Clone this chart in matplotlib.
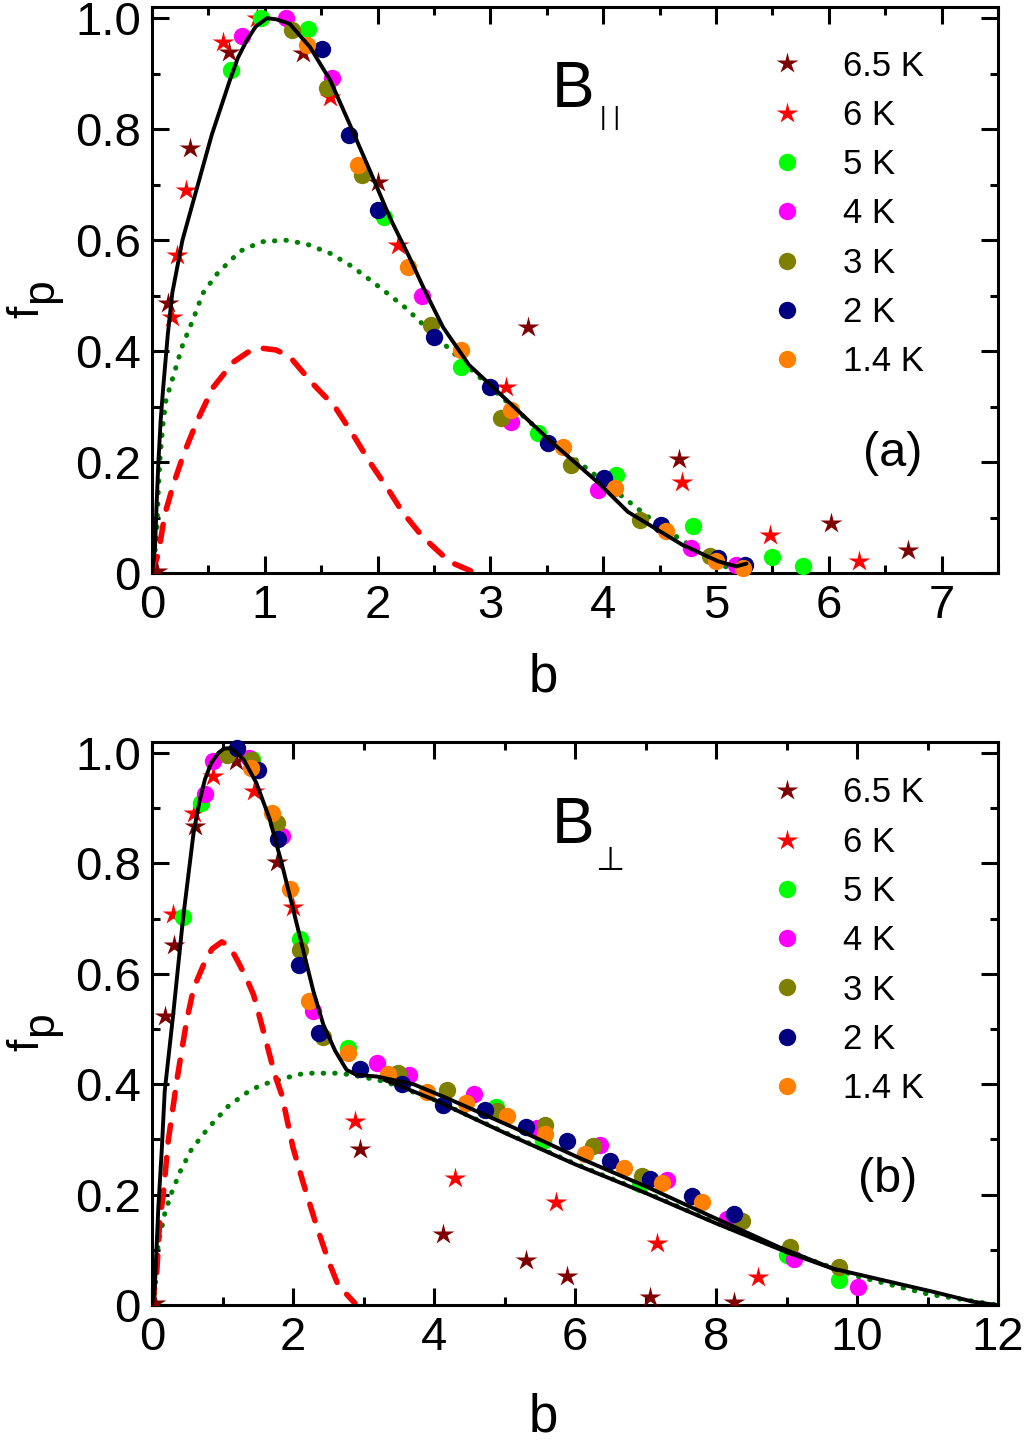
import numpy as np
import matplotlib.pyplot as plt
from matplotlib.ticker import MultipleLocator, FuncFormatter

plt.rcParams['font.family'] = ['Liberation Sans', 'DejaVu Sans']

# ---------------- panel (a): B parallel ----------------
labels = ['6.5 K', '6 K', '5 K', '4 K', '3 K', '2 K', '1.4 K']
colors = ['#800000', '#ff0000', '#00ff00', '#ff00ff', '#808000', '#000080', '#ff8000']
markers = ['*', '*', 'o', 'o', 'o', 'o', 'o']

b_par_65 = [0.04, 0.145, 0.34, 0.68, 1.34, 2.0, 3.33, 4.67, 6.02, 6.70]
f_par_65 = [0.003, 0.486, 0.766, 0.939, 0.937, 0.705, 0.444, 0.205, 0.090, 0.042]
b_par_6 = [0.174, 0.22, 0.30, 0.626, 0.93, 1.58, 2.18, 3.14, 4.70, 5.48, 6.27]
f_par_6 = [0.462, 0.573, 0.69, 0.957, 1.0, 0.858, 0.591, 0.336, 0.164, 0.069, 0.021]
b_par_5 = [0.70, 0.965, 1.38, 2.06, 2.74, 3.42, 4.11, 4.80, 5.50, 5.77]
f_par_5 = [0.907, 1.0, 0.98, 0.642, 0.372, 0.252, 0.177, 0.085, 0.028, 0.012]
b_par_4 = [0.80, 1.19, 1.60, 2.39, 3.18, 3.95, 4.78, 5.18]
f_par_4 = [0.968, 1.0, 0.892, 0.50, 0.273, 0.15, 0.045, 0.015]
b_par_3 = [1.24, 1.55, 1.86, 2.47, 3.09, 3.71, 4.33, 4.95]
f_par_3 = [0.978, 0.875, 0.717, 0.447, 0.279, 0.195, 0.096, 0.030]
b_par_2 = [1.51, 1.75, 2.0, 2.50, 3.0, 3.51, 4.01, 4.51, 5.02, 5.26]
f_par_2 = [0.945, 0.79, 0.654, 0.426, 0.336, 0.235, 0.171, 0.087, 0.027, 0.014]
b_par_14 = [1.37, 1.83, 2.27, 2.74, 3.18, 3.64, 4.10, 4.56, 5.0, 5.24]
f_par_14 = [0.951, 0.735, 0.552, 0.402, 0.294, 0.228, 0.153, 0.076, 0.021, 0.009]

# fit curves
b_par_fit = [0, 0.027, 0.04, 0.056, 0.077, 0.10, 0.14, 0.18, 0.27, 0.40, 0.53, 0.69, 0.76, 0.84,
             0.92, 1.02, 1.10, 1.22, 1.40, 1.58, 1.75, 1.93, 2.11, 2.28, 2.43, 2.58, 2.81, 3.08,
             3.52, 3.96, 4.22, 4.70, 5.02, 5.18, 5.27]
f_par_fit = [0, 0.047, 0.12, 0.198, 0.276, 0.336, 0.43, 0.505, 0.60, 0.695, 0.79, 0.888, 0.928,
             0.96, 0.985, 1.0, 0.998, 0.99, 0.948, 0.888, 0.81, 0.726, 0.64, 0.57, 0.504, 0.443,
             0.375, 0.324, 0.24, 0.162, 0.11, 0.051, 0.021, 0.012, 0.017]
b_par_green = [0, 0.04, 0.056, 0.07, 0.095, 0.124, 0.174, 0.27, 0.37, 0.45, 0.58, 0.78, 0.97,
               1.18, 1.37, 1.58, 1.77, 1.96, 2.05, 2.26, 2.35, 2.55, 2.74, 3.0, 3.5, 4.0, 4.5,
               5.0, 5.2]
f_par_green = [0, 0.06, 0.15, 0.204, 0.264, 0.312, 0.345, 0.41, 0.46, 0.504, 0.54, 0.58, 0.597,
               0.60, 0.593, 0.576, 0.553, 0.524, 0.51, 0.476, 0.458, 0.42, 0.384, 0.335, 0.245,
               0.165, 0.085, 0.02, 0.0]
b_par_red = [0, 0.056, 0.115, 0.19, 0.28, 0.40, 0.54, 0.72, 0.85, 0.98, 1.10, 1.22, 1.43, 1.62,
             1.78, 1.93, 2.08, 2.22, 2.40, 2.64, 2.87]
f_par_red = [0, 0.035, 0.107, 0.16, 0.214, 0.274, 0.334, 0.38, 0.398, 0.405, 0.402, 0.39, 0.34,
             0.30, 0.25, 0.20, 0.155, 0.11, 0.065, 0.02, 0.0]

# ---------------- panel (b): B perpendicular ----------------
b_perp_65 = [0.04, 0.18, 0.31, 0.61, 1.19, 1.77, 2.95, 4.13, 5.30, 5.89, 7.07, 8.25]
f_perp_65 = [0.003, 0.523, 0.652, 0.868, 0.985, 0.802, 0.282, 0.129, 0.081, 0.052, 0.015, 0.006]
b_perp_6 = [0.30, 0.59, 0.87, 1.45, 2.0, 2.88, 4.30, 5.73, 7.16, 8.59]
f_perp_6 = [0.709, 0.892, 0.958, 0.931, 0.721, 0.333, 0.231, 0.186, 0.112, 0.051]
b_perp_5 = [0.44, 0.70, 1.42, 2.10, 2.78, 4.88, 5.55, 6.92, 9.0, 9.74]
f_perp_5 = [0.703, 0.91, 0.99, 0.664, 0.466, 0.359, 0.297, 0.219, 0.09, 0.045]
b_perp_4 = [0.75, 0.86, 1.37, 1.84, 2.29, 3.19, 3.64, 4.56, 5.46, 6.35, 7.30, 8.15, 9.10, 10.02]
f_perp_4 = [0.925, 0.985, 0.991, 0.85, 0.532, 0.438, 0.416, 0.382, 0.321, 0.29, 0.226, 0.155,
            0.084, 0.033]
b_perp_3 = [1.06, 1.41, 1.77, 2.10, 2.43, 3.49, 4.18, 4.89, 5.57, 6.26, 6.95, 8.37, 9.05, 9.75]
f_perp_3 = [0.997, 0.988, 0.874, 0.643, 0.486, 0.42, 0.39, 0.351, 0.327, 0.288, 0.233, 0.152,
            0.106, 0.069]
b_perp_2 = [1.20, 1.51, 1.79, 2.08, 2.37, 2.95, 3.54, 4.13, 4.72, 5.31, 5.89, 6.49, 7.06, 7.66,
            8.25]
f_perp_2 = [1.009, 0.97, 0.845, 0.616, 0.492, 0.428, 0.401, 0.363, 0.353, 0.323, 0.297, 0.261,
            0.228, 0.197, 0.165]
b_perp_14 = [1.41, 1.70, 1.96, 2.23, 2.78, 3.35, 3.90, 4.46, 5.03, 5.57, 6.14, 6.69, 7.23, 7.80]
f_perp_14 = [0.973, 0.892, 0.754, 0.55, 0.456, 0.418, 0.386, 0.366, 0.342, 0.31, 0.273, 0.249,
             0.221, 0.186]

b_perp_fit = [0, 0.04, 0.09, 0.14, 0.18, 0.30, 0.44, 0.59, 0.67, 0.75, 0.84, 0.94, 1.02, 1.11,
              1.20, 1.30, 1.48, 1.67, 1.84, 2.0, 2.15, 2.29, 2.43, 2.60, 2.76, 2.90, 3.19, 3.71,
              4.18, 5.12, 6.07, 7.02, 7.96, 8.91, 9.66, 10.37, 11.08, 11.65, 11.98]
f_perp_fit = [0, 0.033, 0.177, 0.285, 0.387, 0.526, 0.70, 0.856, 0.91, 0.952, 0.982, 1.0, 1.008,
              1.009, 1.0, 0.988, 0.946, 0.88, 0.80, 0.718, 0.64, 0.568, 0.508, 0.46, 0.426,
              0.417, 0.414, 0.40, 0.375, 0.322, 0.266, 0.214, 0.159, 0.104, 0.066, 0.045, 0.024,
              0.006, 0.0]
b_perp_fit2 = [3.3, 4.0, 5.0, 6.0, 7.0, 8.0, 9.0, 9.7]
f_perp_fit2 = [0.408, 0.372, 0.312, 0.255, 0.203, 0.148, 0.096, 0.064]
b_perp_green = [0, 0.04, 0.09, 0.14, 0.18, 0.27, 0.40, 0.56, 0.80, 1.08, 1.39, 1.58, 1.73, 1.89,
                2.05, 2.19, 2.36, 2.52, 2.67, 2.95, 3.3, 4.0, 5.0, 6.0, 7.0, 8.0, 9.0, 10.0,
                11.0, 12.0]
f_perp_green = [0, 0.02, 0.117, 0.141, 0.165, 0.201, 0.242, 0.282, 0.321, 0.36, 0.389, 0.40,
                0.405, 0.411, 0.417, 0.42, 0.42, 0.42, 0.42, 0.414, 0.405, 0.372, 0.313, 0.256,
                0.204, 0.149, 0.097, 0.052, 0.02, 0.0]
b_perp_red = [0, 0.066, 0.11, 0.16, 0.23, 0.30, 0.35, 0.42, 0.49, 0.59, 0.73, 0.85, 0.99, 1.10,
              1.22, 1.34, 1.44, 1.53, 1.63, 1.74, 1.84, 2.0, 2.15, 2.34, 2.50, 2.64, 2.88]
f_perp_red = [0, 0.057, 0.153, 0.201, 0.297, 0.36, 0.405, 0.46, 0.514, 0.574, 0.616, 0.645,
              0.658, 0.65, 0.622, 0.592, 0.562, 0.52, 0.472, 0.418, 0.381, 0.285, 0.219, 0.141,
              0.081, 0.036, 0.003]

par_data = [(b_par_65, f_par_65), (b_par_6, f_par_6), (b_par_5, f_par_5), (b_par_4, f_par_4),
            (b_par_3, f_par_3), (b_par_2, f_par_2), (b_par_14, f_par_14)]
perp_data = [(b_perp_65, f_perp_65), (b_perp_6, f_perp_6), (b_perp_5, f_perp_5),
             (b_perp_4, f_perp_4), (b_perp_3, f_perp_3), (b_perp_2, f_perp_2),
             (b_perp_14, f_perp_14)]


def style_axes(ax, xmax, xmajor, xminor):
    ax.set_xlim(0, xmax)
    ax.set_ylim(0, 1.02)
    ax.xaxis.set_major_locator(MultipleLocator(xmajor))
    ax.xaxis.set_minor_locator(MultipleLocator(xminor))
    ax.yaxis.set_major_locator(MultipleLocator(0.2))
    ax.yaxis.set_minor_locator(MultipleLocator(0.1))
    ax.yaxis.set_major_formatter(FuncFormatter(lambda v, p: '0' if abs(v) < 1e-9 else f'{v:.1f}'))
    ax.tick_params(which='both', direction='in', top=True, right=True, width=2.2,
                   labelsize=34, pad=8)
    ax.tick_params(which='major', length=12)
    ax.tick_params(which='minor', length=6)
    for s in ax.spines.values():
        s.set_linewidth(2.2)


def draw_panel(ax, data, fit, fit_extra, green, red, leg_y):
    ax.plot(*green, color='#008000', lw=3.6, ls=(0, (0.1, 2.2)), dash_capstyle='round', zorder=2)
    ax.plot(*red, color='#ff0000', lw=4, ls=(0, (3.1, 2.8)), dash_capstyle='round', zorder=2)
    handles = []
    for i, ((bx, fy), c, m) in enumerate(zip(data, colors, markers)):
        ms = 16 if m == '*' else 12.5
        h, = ax.plot(bx, fy, ls='none', marker=m, ms=ms, color=c, mec='none',
                     zorder=3 + i * 0.1, clip_on=False if m == 'o' else True)
        handles.append(h)
    ax.plot(*fit, color='black', lw=2.8, zorder=5, solid_capstyle='round')
    if fit_extra is not None:
        ax.plot(*fit_extra, color='black', lw=2.8, zorder=5)
    ax.legend(handles, labels, loc='upper left', bbox_to_anchor=(0.73, leg_y), frameon=False,
              fontsize=25, handlelength=1.0, handletextpad=1.1, labelspacing=0.47,
              borderpad=0, borderaxespad=0, numpoints=1)


fig = plt.figure(figsize=(10.25, 14.43), dpi=100)
ax1 = fig.add_axes([0.1483, 0.6029, 0.8254, 0.3922])
ax2 = fig.add_axes([0.1483, 0.0956, 0.8254, 0.3902])

draw_panel(ax1, par_data, (b_par_fit, f_par_fit), None, (b_par_green, f_par_green),
           (b_par_red, f_par_red), 0.925)
style_axes(ax1, 7.5, 1, 0.5)
draw_panel(ax2, perp_data, (b_perp_fit, f_perp_fit), (b_perp_fit2, f_perp_fit2),
           (b_perp_green, f_perp_green), (b_perp_red, f_perp_red), 0.939)
style_axes(ax2, 12, 2, 1)

for ax, ylab in [(ax1, -0.14), (ax2, -0.156)]:
    ax.set_xlabel('b', fontsize=38)
    ax.xaxis.set_label_coords(0.462, ylab)
    # f_p label built from two rotated glyphs
    ax.text(-0.1344, 0.4505, 'f', transform=ax.transAxes, rotation=90, rotation_mode='anchor',
            ha='left', va='baseline', fontsize=32)
    ax.text(-0.118, 0.477, 'p', transform=ax.transAxes, rotation=90, rotation_mode='anchor',
            ha='left', va='baseline', fontsize=32)

ax1.text(0.472, 0.823, 'B', transform=ax1.transAxes, fontsize=46, ha='left', va='baseline')
ax1.text(0.530, 0.791, '| |', transform=ax1.transAxes, fontsize=18, ha='left', va='baseline')
ax2.text(0.472, 0.821, 'B', transform=ax2.transAxes, fontsize=46, ha='left', va='baseline')
ax2.text(0.524, 0.773, '\u22a5', transform=ax2.transAxes, fontsize=24, ha='left',
         va='baseline', family=['DejaVu Sans'])

ax1.text(0.875, 0.189, '(a)', transform=ax1.transAxes, fontsize=35, ha='center', va='baseline')
ax2.text(0.869, 0.2007, '(b)', transform=ax2.transAxes, fontsize=35, ha='center', va='baseline')

fig.savefig('out.png', dpi=100)
